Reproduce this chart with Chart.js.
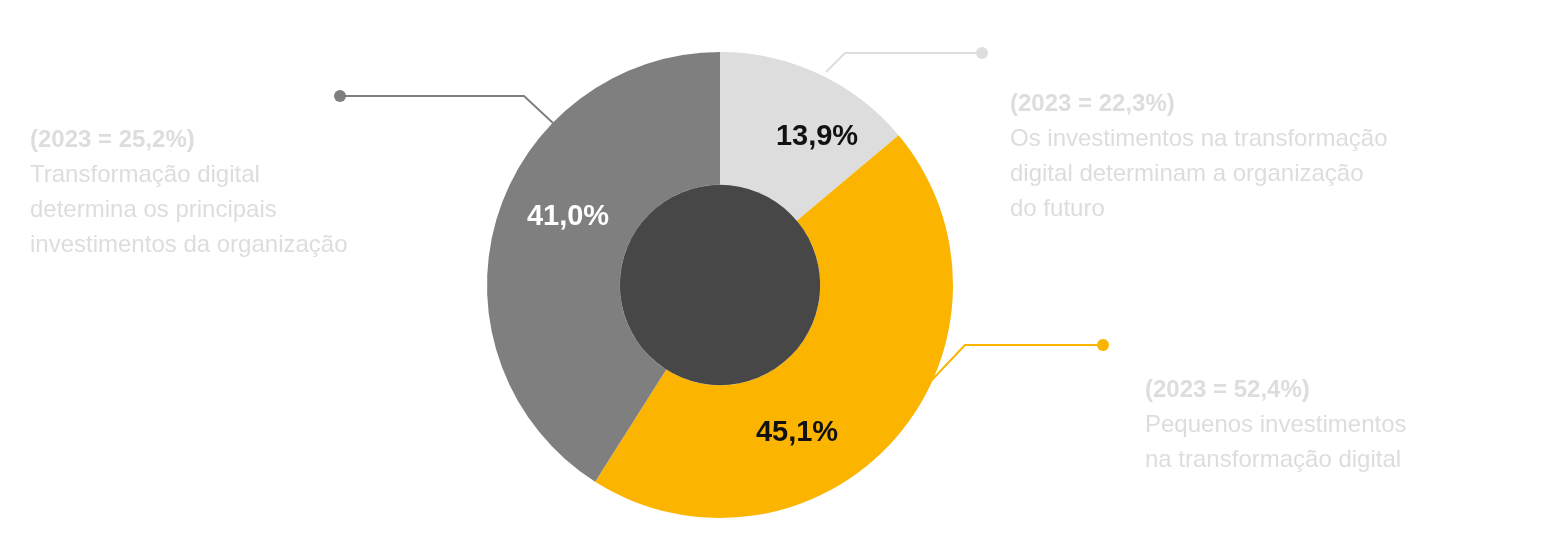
<!DOCTYPE html>
<html>
<head>
<meta charset="utf-8">
<script src="https://cdn.jsdelivr.net/npm/chart.js@4/dist/chart.umd.min.js"></script>
<style>
  html, body { margin: 0; padding: 0; background: #fff; }
  #wrap { width: 1565px; height: 556px; }
</style>
</head>
<body>
<div id="wrap"><canvas id="donut"></canvas></div>
<script>
// Dados do gráfico
const categorias = [
  "Os investimentos na transformação digital determinam a organização do futuro",
  "Pequenos investimentos na transformação digital",
  "Transformação digital determina os principais investimentos da organização"
];
const valores2024 = [13.9, 45.1, 41.0];
const valores2023 = ["22,3%", "52,4%", "25,2%"];
const cores = ["#dddddd", "#fbb400", "#7f7f7f"];
const coresTexto = ["#111111", "#111111", "#ffffff"];

// Posições das anotações (texto) e linhas de chamada
const rotulosPos = [[817, 137], [797, 433], [568, 217]];
const notas = [
  { x: 1010, y: 104, linhas: ["Os investimentos na transformação", "digital determinam a organização", "do futuro"] },
  { x: 1145, y: 390, linhas: ["Pequenos investimentos", "na transformação digital"] },
  { x: 30, y: 140, linhas: ["Transformação digital", "determina os principais", "investimentos da organização"] }
];
const chamadas = [
  [[826, 72], [845, 53], [982, 53]],
  [[930, 382], [965, 345], [1103, 345]],
  [[553, 123], [524, 96], [340, 96]]
];
const coresChamada = ["#dddddd", "#fbb400", "#7f7f7f"];

const fmt = v => v.toFixed(1).replace(".", ",") + "%";

const extras = {
  id: "extras",
  afterDatasetsDraw(chart) {
    const ctx = chart.ctx;
    const arc = chart.getDatasetMeta(0).data[0];
    // miolo escuro
    ctx.save();
    ctx.beginPath();
    ctx.arc(arc.x, arc.y, arc.innerRadius, 0, Math.PI * 2);
    ctx.fillStyle = "#474747";
    ctx.fill();

    // linhas de chamada
    chamadas.forEach((pts, i) => {
      ctx.strokeStyle = coresChamada[i];
      ctx.lineWidth = 2;
      ctx.beginPath();
      pts.forEach((p, j) => j ? ctx.lineTo(p[0], p[1]) : ctx.moveTo(p[0], p[1]));
      ctx.stroke();
      const end = pts[pts.length - 1];
      ctx.beginPath();
      ctx.arc(end[0], end[1], 6, 0, Math.PI * 2);
      ctx.fillStyle = coresChamada[i];
      ctx.fill();
    });

    // rótulos dos valores
    ctx.textAlign = "center";
    ctx.textBaseline = "middle";
    ctx.font = "bold 29px 'Liberation Sans', Arial, sans-serif";
    valores2024.forEach((v, i) => {
      ctx.fillStyle = coresTexto[i];
      ctx.fillText(fmt(v), rotulosPos[i][0], rotulosPos[i][1]);
    });

    // anotações
    ctx.textAlign = "left";
    ctx.fillStyle = "#dddddd";
    notas.forEach((n, i) => {
      ctx.font = "bold 24px 'Liberation Sans', Arial, sans-serif";
      ctx.fillText("(2023 = " + valores2023[i] + ")", n.x, n.y);
      ctx.font = "24px 'Liberation Sans', Arial, sans-serif";
      n.linhas.forEach((l, j) => ctx.fillText(l, n.x, n.y + 35 * (j + 1)));
    });
    ctx.restore();
  }
};

new Chart(document.getElementById("donut"), {
  type: "doughnut",
  data: {
    labels: categorias,
    datasets: [{
      data: valores2024,
      backgroundColor: cores,
      borderWidth: 0
    }]
  },
  options: {
    responsive: true,
    maintainAspectRatio: false,
    animation: false,
    cutout: "43%",
    layout: { padding: { left: 200, right: 325, top: 52, bottom: 38 } },
    plugins: { legend: { display: false }, tooltip: { enabled: false } }
  },
  plugins: [extras]
});
</script>
</body>
</html>
